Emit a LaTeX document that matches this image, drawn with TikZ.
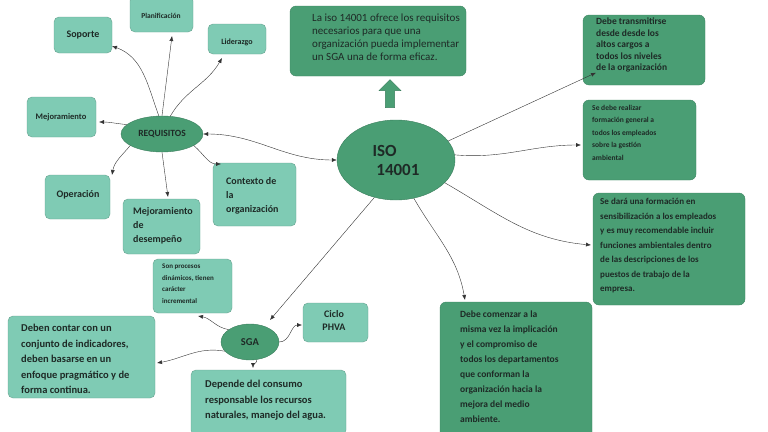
\documentclass[tikz,border=0pt]{standalone}
\usepackage{fontspec}
\setmainfont{Carlito}
\usetikzlibrary{arrows.meta,shapes.geometric,shapes.arrows}
\definecolor{lite}{HTML}{7FCBB4}
\definecolor{dark}{HTML}{4A9E74}
\definecolor{txt}{HTML}{1E2A26}
\begin{document}
\begin{tikzpicture}[x=1pt,y=-1pt,
 lbox/.style={draw=lite!80!black,fill=lite,rounded corners=5pt,text=txt,font=\bfseries\fontsize{10}{13}\selectfont,align=left,inner sep=0pt},
 dbox/.style={draw=dark!85!black,fill=dark,rounded corners=6pt,text=txt,font=\bfseries\fontsize{9}{11}\selectfont,align=left,inner sep=0pt},
 tl/.style={draw=none,fill=none,rounded corners=0pt},
 ell/.style={ellipse,draw=dark!80!black,fill=dark,text=txt,font=\bfseries},
 arr/.style={-{Latex[length=5pt,width=4pt]},thin,draw=black!80}]
\useasboundingbox (0,0) rectangle (768,431);
% light boxes
\draw[lbox] (54,17) rectangle (112,53); \node[lbox,tl] (sop) at (83,35) {Soporte};
\draw[lbox] (130,-4) rectangle (193,32); \node[lbox,tl,font=\bfseries\fontsize{7.5}{9}\selectfont] (pla) at (161,16) {Planificación};
\draw[lbox] (208,24) rectangle (266,54); \node[lbox,tl,font=\bfseries\fontsize{8}{9}\selectfont] (lid) at (237,42) {Liderazgo};
\draw[lbox] (27,97) rectangle (96,137); \node[lbox,tl,font=\bfseries\fontsize{8.5}{9}\selectfont] (mej) at (61,117) {Mejoramiento};
\draw[lbox] (45,175) rectangle (110,219); \node[lbox,tl] (ope) at (78,195) {Operación};
\draw[lbox] (123,199) rectangle (200,254); \node[lbox,tl,anchor=north west,font=\bfseries\fontsize{10}{14}\selectfont] (des) at (133,207) {Mejoramiento\\de\\desempeño};
\draw[lbox] (213,163) rectangle (296,226); \node[lbox,tl,anchor=north west,font=\bfseries\fontsize{10}{14}\selectfont] (ctx) at (226,177) {Contexto de\\la\\organización};
\draw[lbox] (153,259) rectangle (232,313); \node[lbox,tl,anchor=north west,font=\bfseries\fontsize{7}{11.5}\selectfont] (son) at (162,264) {Son procesos\\dinámicos, tienen\\carácter\\incremental};
\draw[lbox] (303,303) rectangle (368,342); \node[lbox,tl,align=center] (phv) at (334,320) {Ciclo\\PHVA};
\draw[lbox] (8,316) rectangle (155,398); \node[lbox,tl,anchor=north west,font=\bfseries\fontsize{10.5}{15.5}\selectfont] (deb) at (21,324) {Deben contar con un\\conjunto de indicadores,\\deben basarse en un\\enfoque pragmático y de\\forma continua.};
\draw[lbox] (191,370) rectangle (346,435); \node[lbox,tl,anchor=north west,font=\bfseries\fontsize{10.5}{15.5}\selectfont] (dep) at (205,380) {Depende del consumo\\responsable los recursos\\naturales, manejo del agua.};
% dark boxes
\draw[dbox] (290,6) rectangle (466,76); \node[dbox,tl,anchor=north west,font=\fontsize{11}{13}\selectfont] (top) at (312,14) {La iso 14001 ofrece los requisitos\\necesarios para que una\\organización pueda implementar\\un SGA una de forma eficaz.};
\draw[dbox] (583,15) rectangle (705,85); \node[dbox,tl,anchor=north west,font=\bfseries\fontsize{9.5}{11.5}\selectfont] (r1) at (596,18) {Debe transmitirse\\desde desde los\\altos cargos a\\todos los niveles\\de la organización};
\draw[dbox] (583,100) rectangle (696,180); \node[dbox,tl,anchor=north west,font=\bfseries\fontsize{7.5}{12.5}\selectfont] (r2) at (592,105) {Se debe realizar\\formación general a\\todos los empleados\\sobre la gestión\\ambiental};
\draw[dbox] (593,193) rectangle (745,305); \node[dbox,tl,anchor=north west,font=\bfseries\fontsize{9}{14.5}\selectfont] (r3) at (600,198) {Se dará una formación en\\sensibilización a los empleados\\y es muy recomendable incluir\\funciones ambientales dentro\\de las descripciones de los\\puestos de trabajo de la\\empresa.};
\draw[dbox] (440,302) rectangle (592,438); \node[dbox,tl,anchor=north west,font=\bfseries\fontsize{9.5}{15}\selectfont] (bot) at (460,311) {Debe comenzar a la\\misma vez la implicación\\y el compromiso de\\todos los departamentos\\que conforman la\\organización hacia la\\mejora del medio\\ambiente.};
% ellipses
\node[ell,minimum width=82pt,minimum height=36pt,font=\bfseries\fontsize{9.5}{10}\selectfont] (req) at (162,134) {REQUISITOS};
\node[ell,minimum width=118pt,minimum height=80pt,font=\bfseries\fontsize{17}{19}\selectfont,align=left] (iso) at (396,160) {ISO\\\ 14001};
\node[ell,minimum width=58pt,minimum height=36pt,font=\bfseries\fontsize{10.5}{12}\selectfont] (sga) at (250,342) {SGA};
% block arrow
\node[single arrow,shape border rotate=90,fill=dark,draw=dark!80!black,minimum height=28pt,minimum width=22pt,single arrow head extend=3pt,inner sep=2pt] (up) at (390,96) {};
% connectors
\draw[arr] (req.100) to[out=110,in=-20] (112,46);
\draw[arr] (req.90) -- (172,36);
\draw[arr] (req.65) to[out=60,in=-120] (222,58);
\draw[arr] (req.165) to[out=175,in=0] (99,122);
\draw[arr] (req.200) to[out=-130,in=80] (112,175);
\draw[arr] (req.-90) -- (168,197);
\draw[arr] (req.-20) to[out=-40,in=180] (221,164);
\draw[{Latex[length=5pt,width=4pt]}-{Latex[length=5pt,width=4pt]},thin,draw=black!80] (req.east) to[out=0,in=180] (iso.west);
\draw[arr] (iso.-120) -- (270,320);
\draw[arr] (iso.20) -- (r1.south west);
\draw[arr] (iso.5) to[out=-5,in=180] (581,145);
\draw[arr] (iso.-25) to[out=-30,in=175] (591,245);
\draw[arr] (iso.-65) to[out=-60,in=100] (465,300);
\draw[arr] (sga.150) to[out=170,in=-10] (198,316);
\draw[arr] (sga.east) to[out=0,in=180] (302,325);
\draw[arr] (sga.200) to[out=170,in=10] (157,363);
\draw[arr] (sga.-70) to[out=-60,in=90] (253,368);
\end{tikzpicture}
\end{document}
